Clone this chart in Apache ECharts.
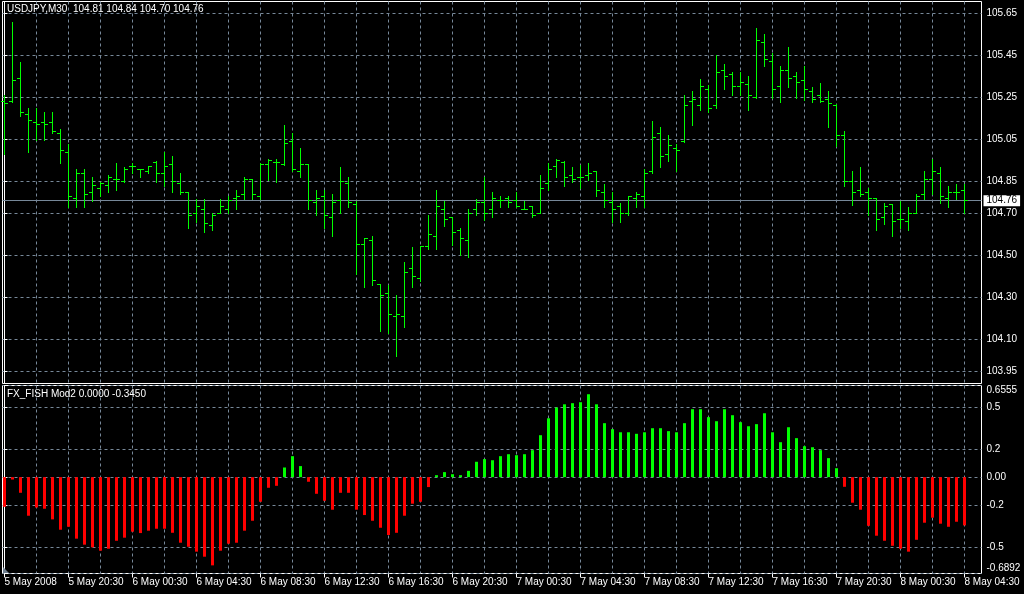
<!DOCTYPE html>
<html><head><meta charset="utf-8">
<script src="https://cdn.jsdelivr.net/npm/echarts@6/dist/echarts.min.js"></script>
<style>html,body{margin:0;padding:0;background:#000;}#c{width:1024px;height:594px;}</style>
</head><body><div id="c"></div>
<script>
// ---------------- data ----------------
const symbolName = 'USDJPY,M30';
const indicatorName = 'FX_FISH Mod2';
const xTickLabels = ['5 May 2008','5 May 20:30','6 May 00:30','6 May 04:30','6 May 08:30','6 May 12:30','6 May 16:30','6 May 20:30','7 May 00:30','7 May 04:30','7 May 08:30','7 May 12:30','7 May 16:30','7 May 20:30','8 May 00:30','8 May 04:30'];
const priceTicks = [103.95, 104.10, 104.30, 104.50, 104.70, 104.85, 105.05, 105.25, 105.45, 105.65];
const fishTicks = [-0.6892, -0.5, -0.2, 0, 0.2, 0.5, 0.6555];
const fishTickLabels = ['-0.6892', '-0.5', '-0.2', '0.00', '0.2', '0.5', '0.6555'];
const bidPrice = 104.76;

const open = [
105.23,105.23,105.34,105.17,105.13,105.13,105.13,105.08,104.99,104.77,
104.89,104.80,104.82,104.83,104.86,104.85,104.92,104.91,104.90,104.94,
104.89,104.93,104.84,104.80,104.70,104.72,104.64,104.70,104.72,104.77,
104.79,104.86,104.78,104.93,104.94,104.93,105.04,104.90,104.93,104.75,
104.78,104.68,104.76,104.84,104.74,104.55,104.57,104.36,104.32,104.21,
104.21,104.44,104.39,104.54,104.59,104.72,104.68,104.62,104.57,104.72,
104.75,104.72,104.76,104.77,104.76,104.72,104.73,104.70,104.84,104.92,
104.94,104.88,104.87,104.88,104.90,104.80,104.75,104.73,104.70,104.77,
104.78,104.90,105.08,104.98,105.01,105.04,105.23,105.21,105.29,105.21,
105.38,105.36,105.30,105.31,105.25,105.51,105.42,105.30,105.38,105.35,
105.33,105.28,105.26,105.24,105.21,105.07,104.85,104.81,104.80,104.77,
104.68,104.74,104.67,104.66,104.70,104.79,104.86,104.89,104.77,104.80,
104.81];
const high = [
105.26,105.61,105.42,105.20,105.20,105.18,105.18,105.10,105.03,104.91,
104.91,104.87,104.85,104.88,104.94,104.92,104.94,104.91,104.92,104.95,
104.99,104.97,104.89,104.80,104.77,104.77,104.70,104.77,104.78,104.81,
104.87,104.86,104.94,104.96,104.96,105.12,105.08,105.01,104.93,104.81,
104.81,104.79,104.92,104.87,104.76,104.58,104.59,104.36,104.36,104.31,
104.47,104.54,104.54,104.69,104.81,104.76,104.68,104.63,104.72,104.77,
104.87,104.80,104.78,104.78,104.80,104.76,104.73,104.88,104.94,104.96,
104.95,104.92,104.93,104.94,104.90,104.84,104.80,104.75,104.78,104.80,
104.91,105.14,105.11,105.07,105.03,105.26,105.28,105.34,105.31,105.45,
105.41,105.37,105.37,105.35,105.58,105.55,105.46,105.40,105.49,105.37,
105.40,105.30,105.32,105.28,105.22,105.09,104.90,104.92,104.82,104.77,
104.75,104.74,104.76,104.73,104.79,104.90,104.96,104.92,104.83,104.84,
104.84];
const low = [
104.98,105.23,105.16,104.99,105.05,105.05,105.08,104.94,104.73,104.73,
104.73,104.76,104.78,104.80,104.81,104.85,104.89,104.87,104.89,104.85,
104.83,104.80,104.79,104.63,104.66,104.61,104.62,104.70,104.70,104.72,
104.77,104.77,104.77,104.86,104.85,104.93,104.90,104.87,104.72,104.69,
104.63,104.59,104.70,104.73,104.41,104.35,104.36,104.14,104.13,104.02,
104.16,104.35,104.38,104.53,104.53,104.64,104.55,104.50,104.49,104.69,
104.67,104.68,104.73,104.73,104.73,104.72,104.68,104.70,104.81,104.87,
104.83,104.85,104.82,104.86,104.78,104.73,104.66,104.66,104.69,104.73,
104.73,104.89,104.92,104.95,104.90,105.04,105.12,105.19,105.18,105.20,
105.29,105.26,105.26,105.19,105.25,105.40,105.25,105.23,105.30,105.25,
105.24,105.23,105.23,105.11,105.02,104.83,104.74,104.78,104.69,104.62,
104.65,104.59,104.63,104.62,104.70,104.77,104.79,104.75,104.73,104.77,
104.70];
const close = [
105.22,105.33,105.18,105.14,105.12,105.12,105.09,105.00,104.78,104.89,
104.79,104.83,104.84,104.87,104.86,104.91,104.92,104.91,104.92,104.89,
104.92,104.85,104.80,104.69,104.73,104.65,104.69,104.73,104.76,104.78,
104.86,104.79,104.93,104.95,104.94,105.03,104.91,104.93,104.76,104.77,
104.69,104.75,104.85,104.75,104.55,104.58,104.38,104.31,104.22,104.22,
104.42,104.40,104.54,104.60,104.73,104.67,104.61,104.58,104.70,104.75,
104.70,104.77,104.76,104.75,104.73,104.72,104.69,104.82,104.91,104.95,
104.87,104.86,104.87,104.89,104.81,104.76,104.72,104.70,104.78,104.79,
104.89,105.06,104.97,105.02,105.00,105.21,105.24,105.30,105.20,105.37,
105.35,105.30,105.32,105.26,105.52,105.43,105.29,105.38,105.34,105.32,
105.29,105.24,105.23,105.22,105.07,104.85,104.80,104.79,104.77,104.67,
104.73,104.66,104.67,104.70,104.78,104.86,104.90,104.78,104.80,104.80,
104.76];
const fish = [
-0.212,-0.017,-0.112,-0.276,-0.217,-0.226,-0.302,-0.376,-0.355,-0.440,
-0.483,-0.502,-0.526,-0.512,-0.455,-0.433,-0.390,-0.400,-0.383,-0.369,
-0.369,-0.398,-0.469,-0.498,-0.533,-0.569,-0.631,-0.526,-0.476,-0.469,
-0.383,-0.312,-0.176,-0.076,-0.062,0.069,0.150,0.079,-0.033,-0.119,
-0.169,-0.233,-0.112,-0.112,-0.233,-0.271,-0.312,-0.362,-0.414,-0.398,
-0.276,-0.190,-0.176,-0.071,0.014,0.036,0.021,0.014,0.045,0.110,
0.129,0.121,0.150,0.164,0.157,0.164,0.193,0.300,0.421,0.498,
0.521,0.529,0.536,0.593,0.521,0.386,0.343,0.321,0.321,0.310,
0.321,0.350,0.350,0.329,0.321,0.386,0.486,0.486,0.429,0.400,
0.486,0.443,0.393,0.364,0.379,0.457,0.321,0.250,0.357,0.279,
0.221,0.214,0.193,0.136,0.064,-0.069,-0.183,-0.233,-0.348,-0.419,
-0.455,-0.491,-0.512,-0.533,-0.448,-0.326,-0.290,-0.333,-0.355,-0.319,
-0.345];

// ---------------- layout / style ----------------
const FONT = '"Liberation Sans", Arial, sans-serif';
const GREEN = '#00ff00', RED = '#ff0000', GRID = '#778899', WHITE = '#ffffff';
const PLOT_LEFT = 2.5, PLOT_WIDTH = 979, BAR_STEP = 8, FIRST_BAR_X = 4.5;
const BARS_PER_GRIDLINE = 4, BARS_PER_LABEL = 8;
const N = open.length;
const xMin = -(FIRST_BAR_X - PLOT_LEFT) / BAR_STEP;
const xMax = xMin + PLOT_WIDTH / BAR_STEP;

const gridLineBars = [], labelBars = [];
for (let k = BARS_PER_GRIDLINE; k < N; k += BARS_PER_GRIDLINE) gridLineBars.push(k);
for (let k = 0; k < N; k += BARS_PER_LABEL) labelBars.push(k);

// price panel: 105.65 at y=13.3, 210.5 px per 1.00
const TOP1 = 1.5, H1 = 382, PX_PER_UNIT = 210.5;
const priceMax = 105.65 + (13.3 - TOP1) / PX_PER_UNIT;
const priceMin = 105.65 - (TOP1 + H1 - 13.3) / PX_PER_UNIT;
const TOP2 = 385.5, H2 = 188;
const fishMin = -0.6892, fishMax = 0.6555;

const ohlcData = open.map((o, k) => [k, o, high[k], low[k], close[k]]);
const fishData = fish.map((v, k) => [k, v]);
const last = N - 1;
const title1 = symbolName + '  ' + [open[last], high[last], low[last], close[last]].map(v => v.toFixed(2)).join(' ');
const lastFish = fish[last];
const title2 = indicatorName + ' ' + Math.max(lastFish, 0).toFixed(4) + ' ' + Math.min(lastFish, 0).toFixed(4);

const dashed = { color: GRID, width: 1, type: [3, 3] };
const txt = { color: WHITE, fontSize: 10, fontFamily: FONT };

const chart = echarts.init(document.getElementById('c'), null, { renderer: 'canvas' });
chart.setOption({
  animation: false,
  backgroundColor: '#000',
  title: [
    { text: title1, left: 7, top: 4, padding: 0, textStyle: Object.assign({ fontWeight: 'normal' }, txt) },
    { text: title2, left: 7, top: 389, padding: 0, textStyle: Object.assign({ fontWeight: 'normal' }, txt) }
  ],
  grid: [
    { left: PLOT_LEFT, width: PLOT_WIDTH, top: TOP1, height: H1, show: true, borderColor: WHITE, borderWidth: 1, backgroundColor: '#000', containLabel: false },
    { left: PLOT_LEFT, width: PLOT_WIDTH, top: TOP2, height: H2, show: true, borderColor: WHITE, borderWidth: 1, backgroundColor: '#000', containLabel: false }
  ],
  xAxis: [
    { type: 'value', gridIndex: 0, min: xMin, max: xMax, position: 'bottom',
      axisLine: { show: false }, axisTick: { show: false, customValues: gridLineBars },
      axisLabel: { show: false }, splitLine: { show: true, lineStyle: dashed } },
    { type: 'value', gridIndex: 1, min: xMin, max: xMax, position: 'top',
      axisLine: { show: false }, axisTick: { show: false, customValues: gridLineBars },
      axisLabel: { show: false }, splitLine: { show: true, lineStyle: dashed } },
    { type: 'value', gridIndex: 1, min: xMin, max: xMax, position: 'bottom',
      axisLine: { show: false },
      axisTick: { show: true, inside: false, length: 4, customValues: labelBars, lineStyle: { color: WHITE } },
      axisLabel: Object.assign({ show: true, customValues: labelBars, align: 'left', margin: 4,
        formatter: v => xTickLabels[Math.round(v / BARS_PER_LABEL)] || '' }, txt),
      splitLine: { show: false } }
  ],
  yAxis: [
    { type: 'value', gridIndex: 0, position: 'right', min: priceMin, max: priceMax,
      axisLine: { show: true, lineStyle: { color: WHITE } },
      axisTick: { show: true, length: 3, customValues: priceTicks, lineStyle: { color: WHITE } },
      axisLabel: Object.assign({ customValues: priceTicks, margin: 5, formatter: v => v.toFixed(2) }, txt),
      splitLine: { show: true, lineStyle: dashed } },
    { type: 'value', gridIndex: 1, position: 'right', min: fishMin, max: fishMax,
      axisLine: { show: true, lineStyle: { color: WHITE } },
      axisTick: { show: true, length: 3, customValues: fishTicks, lineStyle: { color: WHITE } },
      axisLabel: Object.assign({ customValues: fishTicks, margin: 5,
        verticalAlignMinLabel: 'bottom', verticalAlignMaxLabel: 'top',
        formatter: v => {
          let best = 0;
          fishTicks.forEach((t, i) => { if (Math.abs(t - v) < Math.abs(fishTicks[best] - v)) best = i; });
          return fishTickLabels[best];
        } }, txt),
      splitLine: { show: true, lineStyle: dashed } }
  ],
  series: [
    {
      type: 'custom', name: symbolName, xAxisIndex: 0, yAxisIndex: 0,
      data: ohlcData, encode: { x: 0, y: [1, 2, 3, 4] },
      renderItem: function (params, api) {
        const k = api.value(0);
        const pO = api.coord([k, api.value(1)]);
        const pH = api.coord([k, api.value(2)]);
        const pL = api.coord([k, api.value(3)]);
        const pC = api.coord([k, api.value(4)]);
        const x = Math.round(pH[0] - 0.5) + 0.5;
        const r = y => Math.round(y - 0.5) + 0.5;
        const st = { stroke: GREEN, lineWidth: 1 };
        return { type: 'group', children: [
          { type: 'line', shape: { x1: x, y1: Math.round(pH[1]), x2: x, y2: Math.round(pL[1]) + 1 }, style: st },
          { type: 'line', shape: { x1: x - 3.5, y1: r(pO[1]), x2: x + 0.5, y2: r(pO[1]) }, style: st },
          { type: 'line', shape: { x1: x - 0.5, y1: r(pC[1]), x2: x + 3.5, y2: r(pC[1]) }, style: st }
        ] };
      },
      markLine: {
        silent: true, symbol: 'none', z: 1,
        lineStyle: { color: GRID, width: 1, type: 'solid' },
        label: { show: true, position: 'end', distance: 2, formatter: bidPrice.toFixed(2),
          backgroundColor: WHITE, color: '#000', fontSize: 10, fontFamily: FONT, padding: [1, 3, 0, 3] },
        data: [{ yAxis: bidPrice }]
      },
      z: 3
    },
    {
      type: 'bar', name: indicatorName, xAxisIndex: 1, yAxisIndex: 1,
      data: fishData, barWidth: 3,
      itemStyle: { color: p => (p.value[1] > 0 ? GREEN : RED) },
      z: 3
    }
  ],
  graphic: [
    { type: 'polygon', shape: { points: [[3, 567], [3, 573], [9, 573]] }, style: { fill: '#708090' }, z: 10 }
  ]
});
</script>
</body></html>
